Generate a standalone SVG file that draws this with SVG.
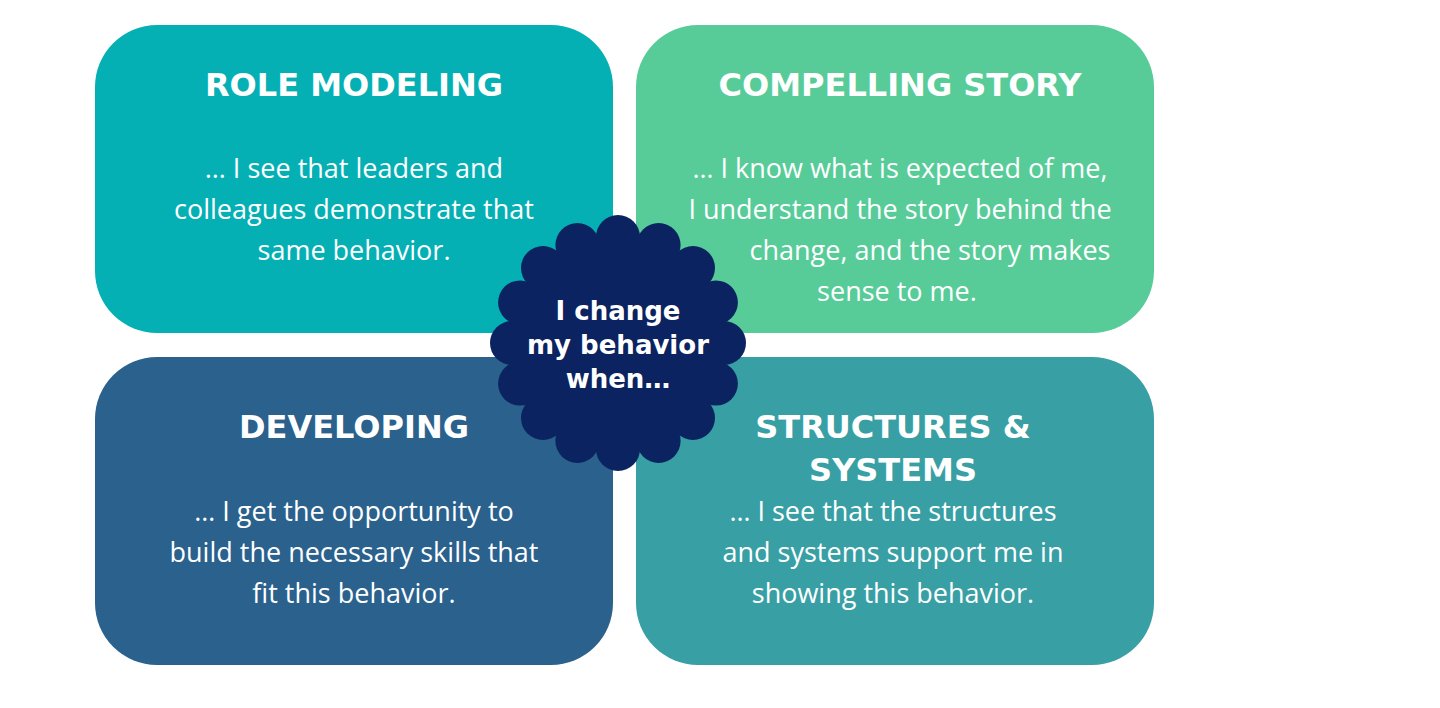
<svg xmlns="http://www.w3.org/2000/svg" width="1440" height="708" viewBox="0 0 1440 708">
<style>
.t{font-family:"DejaVu Sans",sans-serif;font-weight:bold;font-size:32px;fill:#fff;text-anchor:middle}
.b{font-family:"Open Sans","Liberation Sans",sans-serif;font-size:27px;fill:#fff;text-anchor:middle}
.c{font-family:"DejaVu Sans",sans-serif;font-weight:bold;font-size:26px;fill:#fff;text-anchor:middle}
</style>
<rect width="1440" height="708" fill="#fff"/>
<g id="role-modeling">
<rect x="95" y="25" width="518" height="308" rx="62" fill="#05B0B5"/>
<text class="t" x="354" y="96">ROLE MODELING</text>
<text class="b" x="354" y="178">… I see that leaders and</text>
<text class="b" x="354" y="219">colleagues demonstrate that</text>
<text class="b" x="354" y="260">same behavior.</text>
</g>
<g id="compelling-story">
<rect x="636" y="25" width="518" height="308" rx="62" fill="#57CC99"/>
<text class="t" x="900" y="96">COMPELLING STORY</text>
<text class="b" x="900" y="178">… I know what is expected of me,</text>
<text class="b" x="900" y="219">I understand the story behind the</text>
<text class="b" x="930" y="260">change, and the story makes</text>
<text class="b" x="897" y="301">sense to me.</text>
</g>
<g id="developing">
<rect x="95" y="357" width="518" height="308" rx="62" fill="#2A618D"/>
<text class="t" x="354" y="438">DEVELOPING</text>
<text class="b" x="354" y="521">… I get the opportunity to</text>
<text class="b" x="354" y="562">build the necessary skills that</text>
<text class="b" x="354" y="603">fit this behavior.</text>
</g>
<g id="structures-systems">
<rect x="636" y="357" width="518" height="308" rx="62" fill="#38A0A4"/>
<text class="t" x="893" y="438">STRUCTURES &amp;</text>
<text class="t" x="893" y="481">SYSTEMS</text>
<text class="b" x="893" y="521">… I see that the structures</text>
<text class="b" x="893" y="562">and systems support me in</text>
<text class="b" x="893" y="603">showing this behavior.</text>
</g>
<g id="center" fill="#0B2361">
<circle cx="618" cy="343" r="110"/>
<circle cx="724" cy="343" r="22"/><circle cx="715.9" cy="383.6" r="22"/><circle cx="693" cy="418" r="22"/><circle cx="658.6" cy="440.9" r="22"/>
<circle cx="618" cy="449" r="22"/><circle cx="577.4" cy="440.9" r="22"/><circle cx="543" cy="418" r="22"/><circle cx="520.1" cy="383.6" r="22"/>
<circle cx="512" cy="343" r="22"/><circle cx="520.1" cy="302.4" r="22"/><circle cx="543" cy="268" r="22"/><circle cx="577.4" cy="245.1" r="22"/>
<circle cx="618" cy="237" r="22"/><circle cx="658.6" cy="245.1" r="22"/><circle cx="693" cy="268" r="22"/><circle cx="715.9" cy="302.4" r="22"/>
<text class="c" x="618" y="320">I change</text>
<text class="c" x="618" y="354">my behavior</text>
<text class="c" x="618" y="388">when…</text>
</g>
<g id="connectors"/>
</svg>
